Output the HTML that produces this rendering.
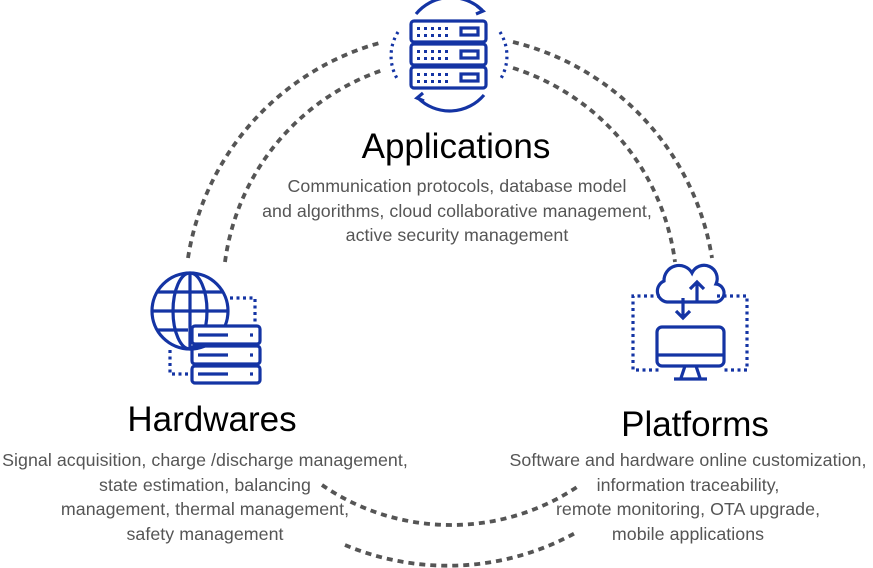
<!DOCTYPE html>
<html><head><meta charset="utf-8"><style>
body{margin:0;background:#fff;width:873px;height:568px;overflow:hidden;position:relative;font-family:"Liberation Sans",sans-serif}
.t{position:absolute;text-align:center;color:#000;font-size:35px;line-height:40px;white-space:nowrap}
.d{position:absolute;text-align:center;color:#555;font-size:17.8px;line-height:24.5px;white-space:nowrap;letter-spacing:0.05px}
</style></head><body>
<svg width="873" height="568" style="position:absolute;left:0;top:0">
<g fill="none" stroke="#555" stroke-width="3.8" stroke-dasharray="6 5">
<path d="M188 258 A266 266 0 0 1 383 42"/>
<path d="M225 262 A235 235 0 0 1 383 70"/>
<path d="M513 42 A266 266 0 0 1 712 258"/>
<path d="M513 68 A235 235 0 0 1 675 262"/>
<path d="M322 485 A228 228 0 0 0 580 485"/>
<path d="M345 545 A265 265 0 0 0 577 532"/>
</g>
<g fill="#1434a4">
<rect x="417" y="27" width="3" height="3"/><rect x="424" y="27" width="3" height="3"/><rect x="431" y="27" width="3" height="3"/><rect x="438" y="27" width="3" height="3"/><rect x="445" y="27" width="3" height="3"/>
<rect x="417" y="34" width="3" height="3"/><rect x="424" y="34" width="3" height="3"/><rect x="431" y="34" width="3" height="3"/><rect x="438" y="34" width="3" height="3"/><rect x="445" y="34" width="3" height="3"/>
<rect x="417" y="50" width="3" height="3"/><rect x="424" y="50" width="3" height="3"/><rect x="431" y="50" width="3" height="3"/><rect x="438" y="50" width="3" height="3"/><rect x="445" y="50" width="3" height="3"/>
<rect x="417" y="57" width="3" height="3"/><rect x="424" y="57" width="3" height="3"/><rect x="431" y="57" width="3" height="3"/><rect x="438" y="57" width="3" height="3"/><rect x="445" y="57" width="3" height="3"/>
<rect x="417" y="73" width="3" height="3"/><rect x="424" y="73" width="3" height="3"/><rect x="431" y="73" width="3" height="3"/><rect x="438" y="73" width="3" height="3"/><rect x="445" y="73" width="3" height="3"/>
<rect x="417" y="80" width="3" height="3"/><rect x="424" y="80" width="3" height="3"/><rect x="431" y="80" width="3" height="3"/><rect x="438" y="80" width="3" height="3"/><rect x="445" y="80" width="3" height="3"/>
</g>
<g fill="none" stroke="#1434a4" stroke-width="3.2">
<rect x="411" y="21" width="75" height="21" rx="3"/>
<rect x="411" y="44" width="75" height="21" rx="3"/>
<rect x="411" y="67" width="75" height="21" rx="3"/>
<rect x="461" y="28" width="17" height="7"/><rect x="461" y="51" width="17" height="7"/><rect x="461" y="74" width="17" height="7"/>
<path d="M416 14 A45 45 0 0 1 482 10"/><path d="M477 6 l6 5 -7 3"/>
<path d="M484 95 A45 45 0 0 1 418 98"/><path d="M423 93 l-6 5 7 3"/>
<path d="M398 32 A45 45 0 0 0 398 80" stroke-dasharray="2.5 4"/>
<path d="M500 32 A45 45 0 0 1 500 80" stroke-dasharray="2.5 4"/>
<circle cx="190" cy="311" r="38"/>
<ellipse cx="190" cy="311" rx="17" ry="38"/>
<path d="M152 311h76M158 292h64M158 330h30M190 273v76"/>
<rect x="192" y="326" width="68" height="18" rx="3" fill="#fff"/>
<rect x="192" y="346" width="68" height="18" rx="3"/>
<rect x="192" y="366" width="68" height="17" rx="3"/>
<path d="M198 335h30M198 355h30M198 374h30"/>
<path d="M250 335h3M250 355h3M250 374h3"/>
<path d="M230 298h25v24M170 350v24h20" stroke-dasharray="3 3.5"/>
<path d="M667 302 a11 11 0 0 1 -3 -21 a15 15 0 0 1 28 -8 a13 13 0 0 1 24 11 a9 9 0 0 1 -2 18 z"/>
<path d="M697 302v-20M690 289l7-7 7 7M683 298v20M676 311l7 7 7-7"/>
<rect x="657" y="327" width="67" height="39" rx="5"/>
<path d="M657 355h67M685 366l-4 12M696 366l4 12M674 379h33"/>
<path d="M660 296h-27v74h27M717 296h30v74h-24" stroke-dasharray="3 3.5"/>
</g>
</svg>
<div class="t" style="left:306px;top:127px;width:300px">Applications</div>
<div class="d" style="left:197px;top:174px;width:520px">Communication protocols, database model<br>and algorithms, cloud collaborative management,<br>active security management</div>
<div class="t" style="left:62px;top:400px;width:300px">Hardwares</div>
<div class="d" style="left:-60px;top:448px;width:530px">Signal acquisition, charge /discharge management,<br>state estimation, balancing<br>management, thermal management,<br>safety management</div>
<div class="t" style="left:545px;top:405px;width:300px">Platforms</div>
<div class="d" style="left:423px;top:448px;width:530px">Software and hardware online customization,<br>information traceability,<br>remote monitoring, OTA upgrade,<br>mobile applications</div>
</body></html>
